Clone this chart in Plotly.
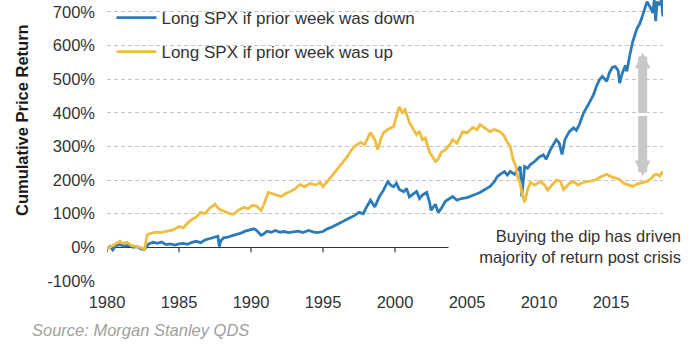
import plotly.graph_objects as go

# ---- data ----
down_year = [1980.0, 1980.2, 1980.4, 1980.6, 1980.9, 1981.2, 1981.5, 1981.8, 1982.1, 1982.4,
             1982.6, 1982.9, 1983.2, 1983.5, 1983.8, 1984.1, 1984.4, 1984.7, 1985.0, 1985.3,
             1985.6, 1985.9, 1986.2, 1986.5, 1986.8, 1987.1, 1987.4, 1987.7, 1987.8, 1987.9,
             1988.1, 1988.4, 1988.7, 1989.0, 1989.3, 1989.6, 1989.9, 1990.2, 1990.4, 1990.7,
             1990.9, 1991.1, 1991.4, 1991.7, 1992.0, 1992.3, 1992.6, 1993.0, 1993.3, 1993.6,
             1994.0, 1994.3, 1994.6, 1995.0, 1995.3, 1995.6, 1996.0, 1996.3, 1996.6, 1996.9,
             1997.2, 1997.5, 1997.8, 1998.0, 1998.3, 1998.6, 1998.9, 1999.2, 1999.5, 1999.7,
             1999.9, 2000.1, 2000.3, 2000.6, 2000.8, 2001.0, 2001.3, 2001.5, 2001.7, 2001.9,
             2002.2, 2002.4, 2002.5, 2002.7, 2002.8, 2003.0, 2003.2, 2003.5, 2003.8, 2004.0,
             2004.3, 2004.6, 2005.0, 2005.3, 2005.6, 2005.9, 2006.2, 2006.6, 2006.9, 2007.1,
             2007.3, 2007.6, 2007.8, 2008.0, 2008.3, 2008.6, 2008.7, 2008.8, 2008.9, 2009.0,
             2009.2, 2009.4, 2009.7, 2010.0, 2010.3, 2010.5, 2010.8, 2011.0, 2011.2, 2011.4,
             2011.6, 2011.8, 2012.1, 2012.4, 2012.6, 2012.8, 2013.1, 2013.5, 2013.8, 2014.0,
             2014.2, 2014.4, 2014.7, 2014.9, 2015.1, 2015.3, 2015.5, 2015.6, 2015.8, 2016.0,
             2016.1, 2016.3, 2016.5, 2016.8, 2017.0, 2017.2, 2017.5, 2017.7, 2017.9, 2018.0,
             2018.1, 2018.2, 2018.4, 2018.5, 2018.6]
down_ret = [-5, 2, -8, 5, 8, 4, 6, 0, 2, -5,
            -6, 10, 15, 12, 16, 8, 10, 7, 10, 12,
            9, 15, 18, 14, 22, 25, 28, 33, 2, 20,
            28, 30, 35, 38, 42, 48, 52, 55, 50, 36,
            40, 48, 45, 50, 45, 47, 44, 46, 48, 44,
            50, 46, 44, 47, 55, 60, 70, 75, 82, 88,
            95, 104, 100, 118, 140, 120, 150, 170, 195, 185,
            180, 190, 172, 165, 175, 150, 160, 166, 145, 155,
            163, 134, 110, 120, 128, 104, 115, 137, 145, 151,
            140, 145, 148, 152, 158, 163, 170, 181, 195, 210,
            217, 225, 215, 226, 217, 235, 240, 151, 200, 240,
            235, 246, 255, 268, 275, 262, 291, 305, 320, 310,
            276, 320, 344, 355, 348, 365, 400, 430, 455, 480,
            498, 508, 493, 520, 535, 537, 525, 488, 520, 540,
            523, 570, 610, 650, 665, 690, 730, 715, 697, 735,
            672, 730, 720, 738, 686]

up_year = [1980.0, 1980.3, 1980.6, 1980.9, 1981.1, 1981.4, 1981.7, 1982.0, 1982.3, 1982.6,
           1982.8, 1983.1, 1983.4, 1983.7, 1984.0, 1984.3, 1984.6, 1985.0, 1985.3, 1985.6,
           1985.9, 1986.2, 1986.5, 1986.8, 1987.1, 1987.5, 1987.8, 1988.1, 1988.5, 1988.8,
           1989.1, 1989.5, 1989.8, 1990.1, 1990.4, 1990.7, 1990.9, 1991.2, 1991.5, 1991.8,
           1992.1, 1992.4, 1992.7, 1993.0, 1993.4, 1993.7, 1994.1, 1994.5, 1994.8, 1995.0,
           1995.3, 1995.7, 1996.0, 1996.4, 1996.7, 1996.9, 1997.2, 1997.6, 1997.9, 1998.1,
           1998.3, 1998.6, 1998.8, 1999.0, 1999.2, 1999.5, 1999.9, 2000.1, 2000.3, 2000.5,
           2000.7, 2001.0, 2001.2, 2001.5, 2001.7, 2001.9, 2002.1, 2002.4, 2002.6, 2002.8,
           2003.0, 2003.2, 2003.5, 2003.8, 2004.0, 2004.3, 2004.7, 2005.0, 2005.4, 2005.7,
           2005.9, 2006.2, 2006.6, 2006.9, 2007.3, 2007.6, 2007.8, 2008.0, 2008.2, 2008.4,
           2008.5, 2008.7, 2008.8, 2009.0, 2009.2, 2009.4, 2009.7, 2010.1, 2010.4, 2010.6,
           2010.8, 2011.2, 2011.5, 2011.7, 2011.9, 2012.1, 2012.4, 2012.7, 2013.0, 2013.5,
           2013.9, 2014.3, 2014.7, 2015.0, 2015.3, 2015.6, 2015.9, 2016.2, 2016.5, 2016.8,
           2017.1, 2017.5, 2017.8, 2018.0, 2018.2, 2018.4, 2018.6]
up_ret = [-5, 3, 10, 18, 12, 15, 6, 4, 0, -5,
          38, 42, 45, 44, 47, 48, 52, 62, 58, 72,
          83, 90, 104, 100, 115, 128, 113, 108, 100, 98,
          110, 119, 115, 125, 122, 110, 128, 163, 160, 155,
          151, 160, 165, 172, 187, 180, 190, 185, 193, 180,
          195, 217, 235, 255, 270, 285, 300, 312, 305, 325,
          341, 320, 291, 320, 341, 350, 359, 390, 418, 400,
          409, 371, 355, 335, 345, 320, 325, 282, 270, 255,
          262, 282, 290, 305, 320, 310, 344, 340, 356, 350,
          365, 355, 344, 350, 344, 330, 312, 300, 261, 240,
          211, 190, 163, 134, 170, 193, 185, 196, 185, 170,
          181, 200, 196, 172, 180, 190, 196, 185, 192, 196,
          200, 210, 217, 210, 205, 202, 190, 185, 181, 188,
          192, 196, 205, 215, 217, 212, 226]

series_names = ["Long SPX if prior week was down", "Long SPX if prior week was up"]
x_ticks = [1980, 1985, 1990, 1995, 2000, 2005, 2010, 2015]
y_ticks = [-100, 0, 100, 200, 300, 400, 500, 600, 700]
y_tick_labels = [f"{v}%" for v in y_ticks]
gap_arrow = {"year": 2017.2, "low": 211, "high": 579, "mid": 395}

BLUE = "#2b7bba"
YELLOW = "#efbd3f"
FONT = "Liberation Sans, Arial, sans-serif"
TXT = "#333333"

fig = go.Figure()
fig.add_trace(go.Scatter(x=down_year, y=down_ret, mode="lines", name=series_names[0],
                         line=dict(color=BLUE, width=2.8), legendgroup="a"))
fig.add_trace(go.Scatter(x=up_year, y=up_ret, mode="lines", name=series_names[1],
                         line=dict(color=YELLOW, width=2.8), legendgroup="b"))

fig.update_layout(
    width=700, height=350,
    margin=dict(l=107, r=37, t=0, b=69),
    paper_bgcolor="white", plot_bgcolor="white",
    font=dict(family=FONT, size=16.5, color=TXT),
    showlegend=True,
    legend=dict(x=0.008, y=1.0, xanchor="left", yanchor="top",
                bgcolor="rgba(0,0,0,0)", font=dict(size=17, color=TXT),
                itemwidth=40, tracegroupgap=9),
    xaxis=dict(range=[1980, 2018.61], tickvals=x_ticks, ticks="", showline=False,
               showgrid=False, zeroline=False, ticklabelstandoff=9,
               tickfont=dict(size=16.5, color=TXT)),
    yaxis=dict(range=[-100, 735], tickvals=y_ticks, ticktext=y_tick_labels,
               showgrid=True, gridcolor="#c4c4c4", griddash="4px,3px", gridwidth=1,
               zeroline=True, zerolinecolor="#333333", zerolinewidth=1.2,
               showline=False, ticks="",
               ticklabelstandoff=11, tickfont=dict(size=16.5, color=TXT)),
)

# small tick marks hanging below the zero line
for t in x_ticks:
    fig.add_shape(type="line", xref="x", yref="y", x0=t, x1=t,
                  ysizemode="pixel", yanchor=0, y0=0, y1=-5,
                  line=dict(color="#333333", width=1.2), layer="below")

# y-axis title
fig.add_annotation(text="<b>Cumulative Price Return</b>", xref="paper", yref="paper",
                   x=(22 - 107) / 556, y=(281 - 120) / 281, xanchor="center", yanchor="middle",
                   textangle=-90, showarrow=False, font=dict(size=16.5, color="#1a1a1a"))

# callout text with white background
fig.add_annotation(text="Buying the dip has driven<br>majority of return post crisis",
                   xref="paper", yref="paper", x=(684 - 107) / 556, y=(281 - 246) / 281,
                   xanchor="right", yanchor="middle", align="right", showarrow=False,
                   width=230, bgcolor="white", borderpad=2,
                   font=dict(size=16.5, color=TXT))

# source
fig.add_annotation(text="<i>Source: Morgan Stanley QDS</i>", xref="paper", yref="paper",
                   x=(30 - 107) / 556, y=(281 - 330) / 281, xanchor="left", yanchor="middle",
                   showarrow=False, font=dict(size=16.5, color="#a0a0a0"))

# double headed grey arrow
for end in ("high", "low"):
    fig.add_annotation(x=gap_arrow["year"], y=gap_arrow[end], ax=gap_arrow["year"],
                       ay=gap_arrow["mid"], xref="x", yref="y", axref="x", ayref="y",
                       text="", showarrow=True, arrowhead=2, arrowsize=0.35,
                       arrowwidth=9, arrowcolor="#c8c8c8", standoff=0, startstandoff=0)

fig.write_html("out.html")
